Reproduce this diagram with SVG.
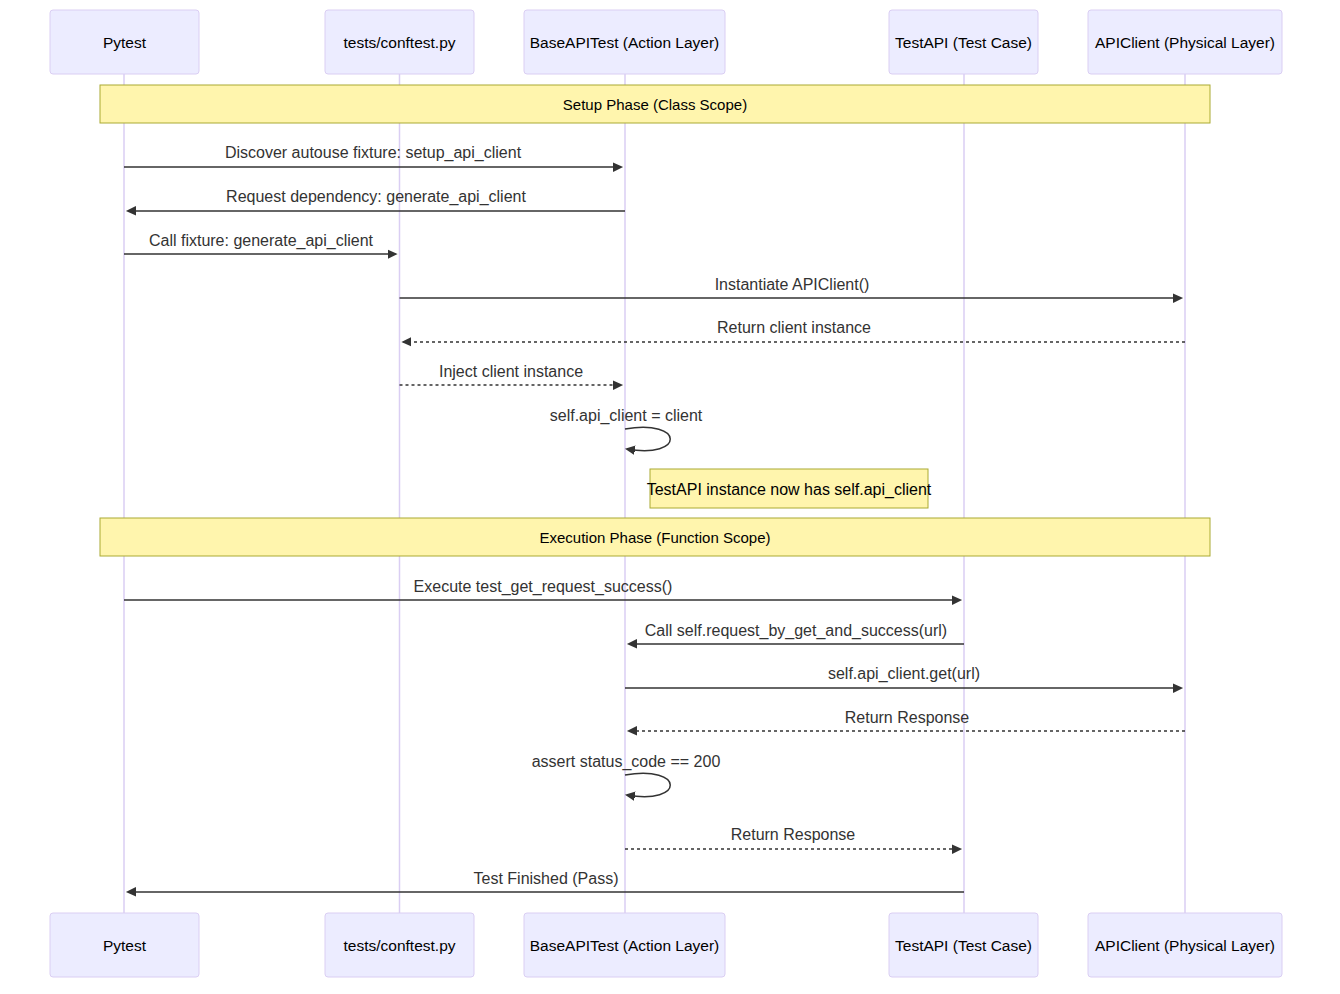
<svg xmlns="http://www.w3.org/2000/svg" width="1340" height="994" viewBox="0 0 1340 994">
<style>
.actor{fill:#ECECFF;stroke:#dacef3;stroke-width:1}
.atext{font-family:"Liberation Sans",Arial,sans-serif;font-size:15.5px;fill:#000;text-anchor:middle;dominant-baseline:central}
.life{stroke:#dacef3;stroke-width:1.5}
.note{fill:#fff5ad;stroke:#aaaa33;stroke-width:1}
.ntext{font-family:"Liberation Sans",Arial,sans-serif;font-size:15px;fill:#000;text-anchor:middle;dominant-baseline:central}
.msg{stroke:#333;stroke-width:1.5;fill:none;marker-end:url(#arrowhead)}
.dash{stroke-dasharray:3,3}
.mtext{font-family:"Liberation Sans",Arial,sans-serif;font-size:16px;fill:#333;text-anchor:middle;dominant-baseline:central}
</style>
<defs>
<marker id="arrowhead" refX="7.9" refY="5" markerUnits="userSpaceOnUse" markerWidth="12" markerHeight="12" orient="auto">
<path d="M -1 0 L 10 5 L 0 10 z" fill="#333"/>
</marker>
</defs>
<rect width="1340" height="994" fill="#fff"/>
<g id="lifelines">
<line class="life" x1="124" y1="74" x2="124" y2="913"/>
<line class="life" x1="399.5" y1="74" x2="399.5" y2="913"/>
<line class="life" x1="625" y1="74" x2="625" y2="913"/>
<line class="life" x1="964" y1="74" x2="964" y2="913"/>
<line class="life" x1="1185" y1="74" x2="1185" y2="913"/>
</g>
<g id="actor-pytest">
<rect class="actor" x="50" y="10" width="149" height="64" rx="3"/><text class="atext" x="124.5" y="42">Pytest</text>
<rect class="actor" x="50" y="913" width="149" height="64" rx="3"/><text class="atext" x="124.5" y="945">Pytest</text>
</g>
<g id="actor-conftest">
<rect class="actor" x="325" y="10" width="149" height="64" rx="3"/><text class="atext" x="399.5" y="42">tests/conftest.py</text>
<rect class="actor" x="325" y="913" width="149" height="64" rx="3"/><text class="atext" x="399.5" y="945">tests/conftest.py</text>
</g>
<g id="actor-base">
<rect class="actor" x="524" y="10" width="201" height="64" rx="3"/><text class="atext" x="624.5" y="42">BaseAPITest (Action Layer)</text>
<rect class="actor" x="524" y="913" width="201" height="64" rx="3"/><text class="atext" x="624.5" y="945">BaseAPITest (Action Layer)</text>
</g>
<g id="actor-testapi">
<rect class="actor" x="889" y="10" width="149" height="64" rx="3"/><text class="atext" x="963.5" y="42">TestAPI (Test Case)</text>
<rect class="actor" x="889" y="913" width="149" height="64" rx="3"/><text class="atext" x="963.5" y="945">TestAPI (Test Case)</text>
</g>
<g id="actor-apiclient">
<rect class="actor" x="1088" y="10" width="194" height="64" rx="3"/><text class="atext" x="1185" y="42">APIClient (Physical Layer)</text>
<rect class="actor" x="1088" y="913" width="194" height="64" rx="3"/><text class="atext" x="1185" y="945">APIClient (Physical Layer)</text>
</g>
<g id="note-setup">
<rect class="note" x="100" y="85" width="1110" height="38"/><text class="ntext" x="655" y="104">Setup Phase (Class Scope)</text>
</g>
<g id="note-instance">
<rect class="note" x="650" y="469" width="278" height="39"/><text class="ntext" x="789" y="489" style="font-size:16px">TestAPI instance now has self.api_client</text>
</g>
<g id="note-exec">
<rect class="note" x="100" y="518" width="1110" height="38"/><text class="ntext" x="655" y="537">Execution Phase (Function Scope)</text>
</g>
<g id="connectors">
<line class="msg" x1="124" y1="167" x2="621" y2="167"/>
<text class="mtext" x="373" y="152">Discover autouse fixture: setup_api_client</text>
<line class="msg" x1="625" y1="211" x2="128" y2="211"/>
<text class="mtext" x="376" y="196">Request dependency: generate_api_client</text>
<line class="msg" x1="124" y1="254" x2="395.5" y2="254"/>
<text class="mtext" x="261" y="240">Call fixture: generate_api_client</text>
<line class="msg" x1="399.5" y1="298" x2="1181" y2="298"/>
<text class="mtext" x="792" y="284">Instantiate APIClient()</text>
<line class="msg dash" x1="1185" y1="342" x2="403.5" y2="342"/>
<text class="mtext" x="794" y="327">Return client instance</text>
<line class="msg dash" x1="399.5" y1="385" x2="621" y2="385"/>
<text class="mtext" x="511" y="371">Inject client instance</text>
<path class="msg" d="M 625,429 C 685,419 685,459 627,449"/>
<text class="mtext" x="626" y="415">self.api_client = client</text>
<line class="msg" x1="124" y1="600" x2="960" y2="600"/>
<text class="mtext" x="543" y="586">Execute test_get_request_success()</text>
<line class="msg" x1="964" y1="644" x2="629" y2="644"/>
<text class="mtext" x="796" y="630">Call self.request_by_get_and_success(url)</text>
<line class="msg" x1="625" y1="688" x2="1181" y2="688"/>
<text class="mtext" x="904" y="673">self.api_client.get(url)</text>
<line class="msg dash" x1="1185" y1="731" x2="629" y2="731"/>
<text class="mtext" x="907" y="717">Return Response</text>
<path class="msg" d="M 625,775 C 685,765 685,805 627,795"/>
<text class="mtext" x="626" y="761">assert status_code == 200</text>
<line class="msg dash" x1="625" y1="849" x2="960" y2="849"/>
<text class="mtext" x="793" y="834">Return Response</text>
<line class="msg" x1="964" y1="892" x2="128" y2="892"/>
<text class="mtext" x="546" y="878">Test Finished (Pass)</text>
</g>
</svg>
